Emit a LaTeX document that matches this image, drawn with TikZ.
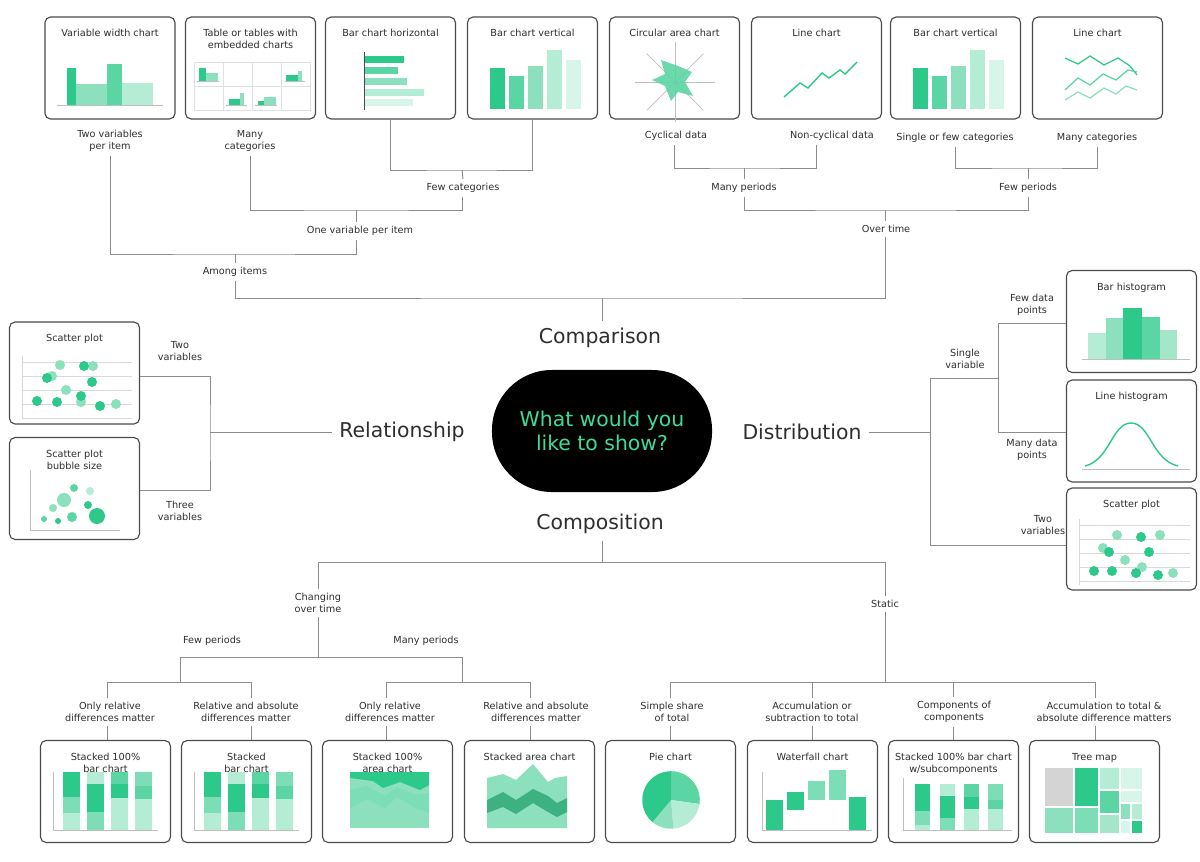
\documentclass[tikz,border=0pt]{standalone}
\usepackage{fontspec}
\setmainfont{DejaVu Sans}
\usetikzlibrary{positioning}

\definecolor{gA}{HTML}{2DC98A}
\definecolor{gB}{HTML}{5CD5A4}
\definecolor{gC}{HTML}{8CE0BD}
\definecolor{gD}{HTML}{B5ECD5}
\definecolor{gE}{HTML}{D7F5E8}
\definecolor{gF}{HTML}{27A872}
\definecolor{linec}{HTML}{8C8C8C}
\definecolor{cardc}{HTML}{4A4A4A}
\definecolor{txt}{HTML}{2E2E2E}
\definecolor{ovtxt}{HTML}{3DDC97}

\tikzset{
  card/.style={draw=cardc,line width=0.8pt,rounded corners=4pt,fill=white,
    minimum width=3.25cm,minimum height=2.55cm,inner sep=0pt},
  title/.style={font=\fontsize{6.9}{8.3}\selectfont,text=txt,align=center,inner sep=0pt},
  lbl/.style={font=\fontsize{6.9}{8.3}\selectfont,text=txt,align=center,inner sep=0pt,outer sep=3pt},
  big/.style={font=\fontsize{14.5}{16}\selectfont,text=txt,inner sep=0pt,outer sep=5pt},
  ln/.style={draw=linec,line width=0.7pt},
  ax/.style={draw=black!25,line width=0.6pt},
}
\newcommand\chartcard[4]{%
  \node[card] (#1) at (#2,#3) {};
  \node[title,anchor=north] (#1t) at ([yshift=-0.32cm]#1.north) {#4};}

\begin{document}
\begin{tikzpicture}[x=0.025cm,y=-0.025cm]
\useasboundingbox (0,0) rectangle (1200,861);

% centre
\node[fill=black,rounded corners=1.5cm,minimum width=5.5cm,minimum height=3.05cm,
  text=ovtxt,align=center,font=\fontsize{14.5}{17}\selectfont] (q) at (602,431)
  {What would you\\like to show?};
\node[big] (cmp) at (600,338) {Comparison};
\node[big] (rel) at (402,432) {Relationship};
\node[big] (dst) at (802,432) {Distribution};
\node[big] (cps) at (600,524) {Composition};

% top cards
\chartcard{vw}{110}{68}{Variable width chart}
\chartcard{tb}{250.5}{68}{Table or tables with\\embedded charts}
\chartcard{bh}{390.5}{68}{Bar chart horizontal}
\chartcard{bv}{532.5}{68}{Bar chart vertical}
\chartcard{ca}{674.5}{68}{Circular area chart}
\chartcard{lc}{816.5}{68}{Line chart}
\chartcard{bvb}{955.5}{68}{Bar chart vertical}
\chartcard{lcb}{1097.5}{68}{Line chart}
% left / right cards
\chartcard{sp}{74.5}{373}{Scatter plot}
\chartcard{bb}{74.5}{488.5}{Scatter plot\\bubble size}
\chartcard{hb}{1131.5}{321.5}{Bar histogram}
\chartcard{hl}{1131.5}{431}{Line histogram}
\chartcard{spr}{1131.5}{539}{Scatter plot}
% bottom cards
\chartcard{sb}{105.5}{791.5}{Stacked 100\%\\bar chart}
\chartcard{sk}{246.5}{791.5}{Stacked\\bar chart}
\chartcard{sa}{387.5}{791.5}{Stacked 100\%\\area chart}
\chartcard{sc}{529.5}{791.5}{Stacked area chart}
\chartcard{pie}{670.5}{791.5}{Pie chart}
\chartcard{wf}{812.5}{791.5}{Waterfall chart}
\chartcard{ss}{953.5}{791.5}{Stacked 100\% bar chart\\w/subcomponents}
\chartcard{tm}{1094.5}{791.5}{Tree map}

% comparison branch labels
\node[lbl] (tv) at (110,141) {Two variables\\per item};
\node[lbl] (mc) at (250,141) {Many\\categories};
\node[lbl] (fc) at (463,188) {Few categories};
\node[lbl] (ov) at (360,231) {One variable per item};
\node[lbl] (ai) at (235,272) {Among items};
\node[lbl] (cy) at (676,136) {Cyclical data};
\node[lbl] (nc) at (832,136) {Non-cyclical data};
\node[lbl] (mp) at (744,188) {Many periods};
\node[lbl] (fp) at (1028,188) {Few periods};
\node[lbl] (sf) at (955,138) {Single or few categories};
\node[lbl] (mca) at (1097,138) {Many categories};
\node[lbl] (ot) at (886,229) {Over time};

\coordinate (jfc) at (462,170);
\coordinate (jov) at (356,210);
\coordinate (jai) at (235,254);
\coordinate (jcm) at (602,298);
\coordinate (jmp) at (744,168);
\coordinate (jfp) at (1028,168);
\coordinate (jot) at (885,210);

\draw[ln] (bh.south) |- (jfc) -| (bv.south);
\draw[ln] (jfc) -- (fc.north);
\draw[ln] (mc.south) |- (jov) -| (462,0 |- fc.south);
\draw[ln] (jov) -- (356,0 |- ov.north);
\draw[ln] (tv.south) |- (jai) -| (356,0 |- ov.south);
\draw[ln] (jai) -- (ai.north);
\draw[ln] (ai.south) |- (jcm) -| (885,0 |- ot.south);
\draw[ln] (jcm) -- (602,0 |- cmp.north);
\draw[ln] (674,0 |- cy.south) |- (jmp) -| (816,0 |- nc.south);
\draw[ln] (jmp) -- (mp.north);
\draw[ln] (sf.south) |- (jfp) -| (mca.south);
\draw[ln] (jfp) -- (fp.north);
\draw[ln] (mp.south) |- (jot) -| (fp.south);
\draw[ln] (jot) -- (885,0 |- ot.north);

% relationship
\node[lbl] (r2) at (180,351) {Two\\variables};
\node[lbl] (r3) at (180,511) {Three\\variables};
\coordinate (jrl) at (210,432);
\draw[ln] (rel.west) -- (jrl);
\draw[ln] (sp.east |- 0,376) -| (jrl) |- (bb.east |- 0,490);

% distribution
\node[lbl] (sv) at (965,359) {Single\\variable};
\node[lbl] (fd) at (1032,305) {Few data\\points};
\node[lbl] (md) at (1032,450) {Many data\\points};
\node[lbl] (d2) at (1043,525) {Two\\variables};
\coordinate (jds) at (930,432);
\coordinate (jsv) at (998,378);
\draw[ln] (dst.east) -- (jds);
\draw[ln] (jsv) -| (jds) |- (spr.west |- 0,545);
\draw[ln] (hb.west |- 0,323) -| (jsv) |- (hl.west |- 0,432);

% composition
\node[lbl] (ch) at (318,603) {Changing\\over time};
\node[lbl] (st) at (885,604) {Static};
\node[lbl] (bfp) at (212,641) {Few periods};
\node[lbl] (bmp) at (426,641) {Many periods};
\node[lbl] (l1) at (110,712) {Only relative\\differences matter};
\node[lbl] (l2) at (246,712) {Relative and absolute\\differences matter};
\node[lbl] (l3) at (390,712) {Only relative\\differences matter};
\node[lbl] (l4) at (536,712) {Relative and absolute\\differences matter};
\node[lbl] (l5) at (672,712) {Simple share\\of total};
\node[lbl] (l6) at (812,712) {Accumulation or\\subtraction to total};
\node[lbl] (l7) at (954,712) {Components of\\components};
\node[lbl] (l8) at (1104,712) {Accumulation to total \&\\absolute difference matters};
\coordinate (jcp) at (602,562);
\coordinate (jch) at (318,657);
\coordinate (jfw) at (180,682);
\coordinate (jmn) at (462,682);
\coordinate (jst) at (885,682);
\draw[ln] (602,0 |- cps.south) -- (jcp);
\draw[ln] (ch.north) |- (jcp) -| (st.north);
\draw[ln] (ch.south) -- (jch);
\draw[ln] (jfw) |- (jch) -| (jmn);
\draw[ln] (107,0 |- l1.north) |- (jfw) -| (251,0 |- l2.north);
\draw[ln] (386,0 |- l3.north) |- (jmn) -| (530,0 |- l4.north);
\draw[ln] (st.south) -- (jst);
\draw[ln] (670,0 |- l5.north) |- (jst) -| (1095,0 |- l8.north);
\draw[ln] (812,0 |- l6.north) -- (812,682);
\draw[ln] (953,0 |- l7.north) -- (953,682);
\foreach \x/\n in {107/1,251/2,386/3,530/4,670/5,812/6,953/7,1095/8}
  \draw[ln] (\x,0 |- l\n.south) -- (\x,740);

%% chart contents
% variable width
\fill[gA] (67,68) rectangle (76,105);
\fill[gC] (76,84) rectangle (107,105);
\fill[gB] (107,64) rectangle (122,105);
\fill[gD] (122,83) rectangle (153,105);
\draw[ax] (57,105) -- (163,105);
% table
\draw[black!12,line width=0.6pt] (194,62) rectangle (310,110);
\foreach \x in {223,252,281} \draw[black!12,line width=0.6pt] (\x,62) -- (\x,110);
\draw[black!12,line width=0.6pt] (194,86) -- (310,86);
\fill[gA] (199,68) rectangle (206,81); \fill[gC] (206,73) rectangle (218,81);
\fill[gA] (286,75) rectangle (298,81); \fill[gC] (298,71) rectangle (302,81);
\fill[gA] (229,99) rectangle (240,105); \fill[gC] (240,93) rectangle (244,105);
\fill[gA] (258,101) rectangle (264,105); \fill[gC] (264,97) rectangle (276,105);
\foreach \a/\b/\c in {197/219/81,285/305/81,226/247/105,255/277/105} \draw[ax] (\a,\c) -- (\b,\c);
% bar horizontal
\fill[gA] (365,56) rectangle (404,63);
\fill[gB] (365,67) rectangle (398,74);
\fill[gC] (365,78) rectangle (407,85);
\fill[gD] (365,89) rectangle (424,96);
\fill[gE] (365,99) rectangle (413,106);
\draw[cardc,line width=0.6pt] (364,52) -- (364,110);
% bar vertical x2
\foreach \s in {0,423}{
  \fill[gA] (490+\s,68) rectangle (505+\s,109);
  \fill[gB] (509+\s,76) rectangle (524+\s,109);
  \fill[gC] (528+\s,66) rectangle (543+\s,109);
  \fill[gD] (547+\s,50) rectangle (562+\s,109);
  \fill[gE] (566+\s,60) rectangle (581+\s,109);
}
% circular area
\foreach \a in {0,45,...,315} \draw[black!25,line width=0.5pt] (675,82) -- ++(\a:1.0cm);
\fill[gB,opacity=0.9] (661,60) -- (678,66) -- (692,72) -- (685,82) -- (693,96) -- (678,92) -- (671,101) -- (665,86) -- (652,80) -- (665,74) -- cycle;
% line chart
\draw[gA,line width=1pt] (784,97) -- (800,83) -- (808,88) -- (822,73) -- (829,78) -- (840,70) -- (845,74) -- (857,62);
% many lines
\draw[gA,line width=0.9pt] (1065,58) -- (1078,64) -- (1090,56) -- (1104,65) -- (1118,58) -- (1130,66) -- (1137,75);
\draw[gB,line width=0.9pt] (1065,90) -- (1078,78) -- (1090,85) -- (1103,74) -- (1116,80) -- (1128,70) -- (1137,72);
\draw[gC,line width=0.9pt] (1065,100) -- (1078,92) -- (1090,98) -- (1104,88) -- (1116,94) -- (1126,86) -- (1137,90);
% scatter plots
\foreach \yy in {362,376,390,404,418} \draw[black!15,line width=0.5pt] (22,\yy) -- (132,\yy);
\draw[black!15,line width=0.5pt] (22,356) -- (22,418);
\foreach \xx/\yy in {60/365,93/366,52/376,66/390,81/402,116/404} \fill[gC] (\xx,\yy) circle (5);
\foreach \xx/\yy in {84/366,47/378,92/382,37/401,57/402,81/396,100/406} \fill[gA] (\xx,\yy) circle (5);
\foreach \yy in {525,539,553,567,581} \draw[black!15,line width=0.5pt] (1079,\yy) -- (1190,\yy);
\draw[black!15,line width=0.5pt] (1079,519) -- (1079,585);
\foreach \xx/\yy in {1117/535,1160/535,1103/548,1125/560,1142/567,1173/573} \fill[gC] (\xx,\yy) circle (5);
\foreach \xx/\yy in {1141/537,1109/552,1149/552,1094/571,1112/571,1136/573,1158/575} \fill[gA] (\xx,\yy) circle (5);
% bubble
\draw[ax] (30,470) -- (30,530) -- (120,530);
\fill[gC] (64,500) circle (7);
\fill[gB] (74,488) circle (4);
\fill[gD] (90,491) circle (4);
\fill[gA] (88,505) circle (4);
\fill[gA] (97,516) circle (8);
\fill[gC] (53,508) circle (4);
\fill[gB] (72,517) circle (5);
\fill[gB] (44,519) circle (3);
\fill[gA] (58,521) circle (3);
% bar histogram
\fill[gD] (1088,333) rectangle (1106,359);
\fill[gC] (1106,318) rectangle (1123,359);
\fill[gA] (1123,308) rectangle (1142,359);
\fill[gB] (1142,317) rectangle (1160,359);
\fill[gC!80!white] (1160,330) rectangle (1177,359);
\draw[ax] (1082,359) -- (1190,359);
% line histogram
\draw[gA,line width=1pt] (1085,466) .. controls (1110,460) and (1112,423) .. (1131,423) .. controls (1150,423) and (1152,460) .. (1178,466);
\draw[ax] (1082,469) -- (1190,469);
% stacked bars x2
\foreach \s in {0,141}{
  \draw[ax] (53+\s,772) -- (53+\s,830) -- (158+\s,830);
  \fill[gA] (63+\s,772) rectangle (80+\s,797); \fill[gB!80] (63+\s,797) rectangle (80+\s,813); \fill[gD] (63+\s,813) rectangle (80+\s,830);
  \fill[gD] (87+\s,772) rectangle (104+\s,784); \fill[gA] (87+\s,784) rectangle (104+\s,812); \fill[gB!80] (87+\s,812) rectangle (104+\s,830);
  \fill[gB] (111+\s,772) rectangle (128+\s,784); \fill[gA] (111+\s,784) rectangle (128+\s,798); \fill[gD] (111+\s,798) rectangle (128+\s,830);
  \fill[gB!80] (135+\s,772) rectangle (152+\s,786); \fill[gB] (135+\s,786) rectangle (152+\s,799); \fill[gD] (135+\s,799) rectangle (152+\s,830);
}
% stacked 100% area
\fill[gC] (350,772) rectangle (429,828);
\fill[gA] (350,772) -- (429,772) -- (429,785) -- (420,790) -- (400,782) -- (383,788) -- (373,781) -- (350,778) -- cycle;
\fill[gB!80] (350,790) -- (367,786) -- (385,796) -- (397,787) -- (416,795) -- (429,793) -- (429,813) -- (416,808) -- (397,797) -- (385,808) -- (367,799) -- (350,808) -- cycle;
% stacked area
\fill[gC] (487,778) -- (503,774) -- (516,780) -- (533,764) -- (548,782) -- (555,778) -- (567,776) -- (567,828) -- (487,828) -- cycle;
\fill[gF!90] (487,800) -- (503,792) -- (516,800) -- (533,789) -- (548,796) -- (557,803) -- (567,798) -- (567,812) -- (557,817) -- (548,812) -- (533,803) -- (516,814) -- (503,807) -- (487,813) -- cycle;
% pie
\begin{scope}[shift={(671,800)},x=1cm,y=1cm]
  \fill[gB] (0,0) -- (90:0.72) arc[start angle=90,end angle=-8,radius=0.72] -- cycle;
  \fill[gD] (0,0) -- (-8:0.72) arc[start angle=-8,end angle=-85,radius=0.72] -- cycle;
  \fill[gC] (0,0) -- (-85:0.72) arc[start angle=-85,end angle=-130,radius=0.72] -- cycle;
  \fill[gA] (0,0) -- (-130:0.72) arc[start angle=-130,end angle=-270,radius=0.72] -- cycle;
\end{scope}
% waterfall
\draw[ax] (762,772) -- (762,830) -- (872,830);
\fill[gA] (766,800) rectangle (783,830);
\fill[gA] (787,792) rectangle (804,810);
\fill[gB!80] (808,781) rectangle (825,800);
\fill[gB!80] (829,770) rectangle (846,800);
\fill[gA] (849,797) rectangle (866,830);
% stacked with subcomponents
\draw[ax] (903,778) -- (903,830) -- (1012,830);
\fill[gA] (915,784) rectangle (930,811); \fill[gB!80] (915,811) rectangle (930,825); \fill[gD] (915,825) rectangle (930,830);
\fill[gD] (940,784) rectangle (955,796); \fill[gA] (940,796) rectangle (955,818); \fill[gB!80] (940,818) rectangle (955,830);
\fill[gB] (964,784) rectangle (979,797); \fill[gA] (964,797) rectangle (979,809); \fill[gD] (964,809) rectangle (979,830);
\fill[gB!80] (988,784) rectangle (1003,800); \fill[gB] (988,800) rectangle (1003,809); \fill[gD] (988,809) rectangle (1003,830);
% tree map
\fill[black!17] (1045,768) rectangle (1073,806);
\fill[gA] (1075,768) rectangle (1098,806);
\fill[gD] (1100,768) rectangle (1119,789);
\fill[gE] (1121,768) rectangle (1142,789);
\fill[gB] (1100,791) rectangle (1119,813);
\fill[gE] (1121,791) rectangle (1142,802);
\fill[gC] (1045,808) rectangle (1073,833);
\fill[gB!80] (1075,808) rectangle (1098,833);
\fill[gC!80] (1100,815) rectangle (1119,833);
\fill[gC] (1121,804) rectangle (1130,819);
\fill[gD] (1132,804) rectangle (1142,819);
\fill[gE] (1121,821) rectangle (1130,833);
\fill[gA] (1132,821) rectangle (1142,833);
\end{tikzpicture}
\end{document}
